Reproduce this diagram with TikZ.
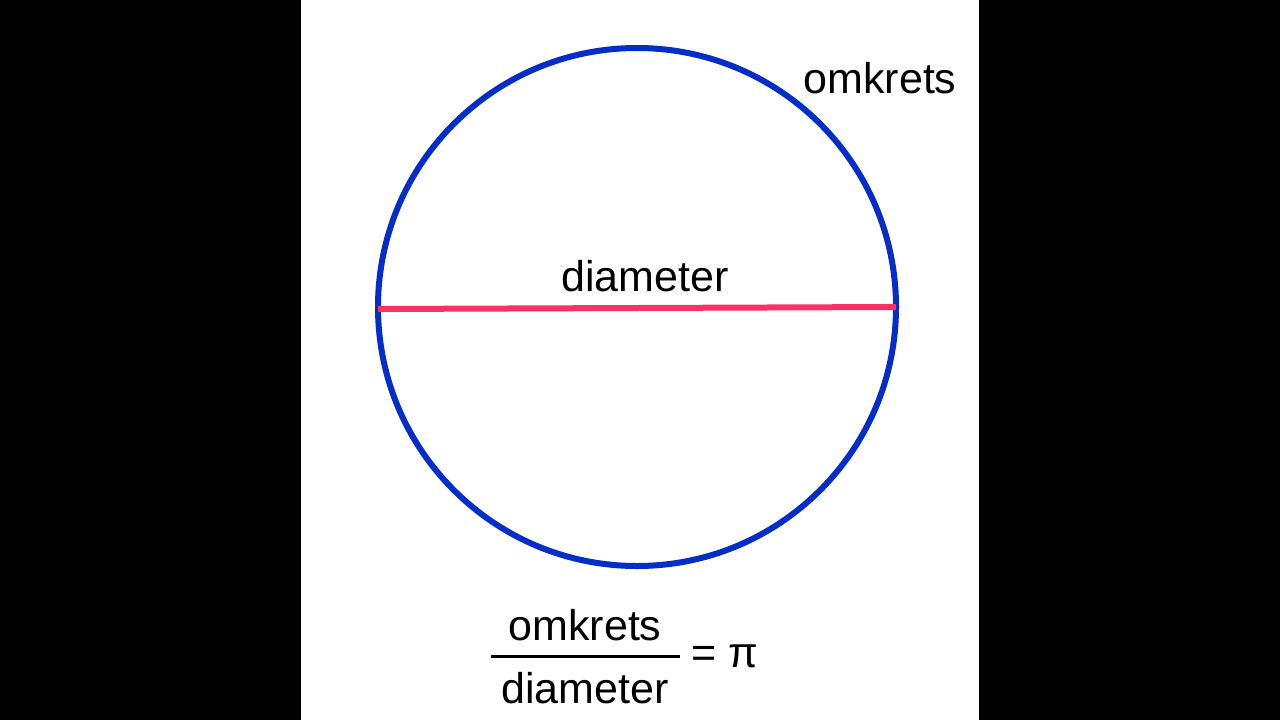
\documentclass[tikz,border=0pt]{standalone}
\usepackage{fontspec}
\setmainfont{Liberation Sans}
\begin{document}
\begin{tikzpicture}[x=1pt,y=-1pt,lbl/.style={inner sep=0pt,font=\fontsize{43}{47}\selectfont}]
\fill[black] (0,0) rectangle (1280,720);
\fill[white] (301,0) rectangle (979,720);
\node[draw={rgb,255:red,5;green,45;blue,200},line width=6pt,circle,minimum size=518pt,inner sep=0pt] (c) at (637,307) {};
\coordinate (l) at (378,309);
\coordinate (r) at (896,307);
\draw[line width=6pt,color={rgb,255:red,250;green,50;blue,100}] (l) -- (r);
\node[lbl] (dm) at (645,276) {diameter};
\node[lbl] (om) at (880,78) {omkrets};
\coordinate (fl) at (491,656);
\coordinate (fr) at (680,656);
\draw[line width=3pt] (fl) -- (fr);
\node[lbl] (num) at (585,625) {omkrets};
\node[lbl] (den) at (585,688) {diameter};
\node[lbl,anchor=west] (eq) at (691,656) {= π};
\end{tikzpicture}
\end{document}
